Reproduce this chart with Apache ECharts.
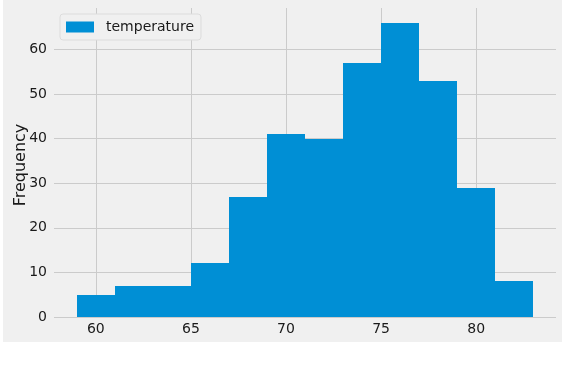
<!DOCTYPE html>
<html><head><meta charset="utf-8">
<script src="https://cdn.jsdelivr.net/npm/echarts@6/dist/echarts.min.js"></script>
<style>
html,body{margin:0;padding:0;background:#fff;}
#wrap{position:relative;width:586px;height:365px;background:#fff;}
#bg{position:absolute;left:3px;top:0;width:559px;height:342px;background:#f0f0f0;}
#c{position:absolute;left:0;top:0;width:586px;height:365px;}
</style></head>
<body><div id="wrap"><div id="bg"></div><div id="c"></div></div>
<script>
const binEdges = [59, 61, 63, 65, 67, 69, 71, 73, 75, 77, 79, 81, 83];
const counts = [5, 7, 7, 12, 27, 41, 40, 57, 66, 53, 29, 8];
const seriesName = 'temperature';

const data = counts.map((c, i) => [binEdges[i], binEdges[i + 1], c]);
const chart = echarts.init(document.getElementById('c'), null, {renderer: 'canvas'});
const font = 'DejaVu Sans';
const txt = '#1a1a1a';
chart.setOption({
  backgroundColor: 'transparent',
  animation: false,
  textStyle: {fontFamily: font},
  grid: {left: 54, top: 8, width: 502, height: 309, containLabel: false, outerBoundsMode: 'none'},
  legend: {
    left: 60, top: 14, data: [{name: seriesName, icon: 'rect'}],
    itemWidth: 28, itemHeight: 11, itemGap: 10,
    padding: [6, 7, 6, 6],
    backgroundColor: '#f0f0f0', borderColor: '#dcdcdc', borderWidth: 1, borderRadius: 3,
    textStyle: {fontFamily: font, fontSize: 14, color: txt, padding: [0, 0, 0, 7]}
  },
  xAxis: {
    type: 'value', min: 57.8, max: 84.2, splitNumber: 5, minInterval: 5, maxInterval: 5,
    axisLine: {show: false}, axisTick: {show: false},
    axisLabel: {fontFamily: font, fontSize: 14, color: txt, margin: 5,
      showMinLabel: false, showMaxLabel: false,
      formatter: v => (Math.abs(v % 5) < 1e-6 ? String(v) : '')},
    splitLine: {show: true, showMinLine: false, showMaxLine: false, lineStyle: {color: '#cbcbcb', width: 1}}
  },
  yAxis: {
    type: 'value', min: 0, max: 69.3, interval: 10,
    name: 'Frequency', nameLocation: 'middle', nameRotate: 90, nameGap: 25, nameMoveOverlap: false,
    nameTextStyle: {fontFamily: font, fontSize: 16, color: txt, padding: [0, 5, 0, 0]},
    axisLine: {show: false}, axisTick: {show: false},
    axisLabel: {fontFamily: font, fontSize: 14, color: txt, margin: 7, showMaxLabel: false,
      formatter: v => (Math.abs(v % 10) < 1e-6 ? String(v) : '')},
    splitLine: {show: true, showMaxLine: false, lineStyle: {color: '#cbcbcb', width: 1}}
  },
  series: [{
    name: seriesName, type: 'custom', itemStyle: {color: '#008fd5'},
    encode: {x: [0, 1], y: 2},
    data: data,
    renderItem: function (params, api) {
      const p0 = api.coord([api.value(0), api.value(2)]);
      const p1 = api.coord([api.value(1), 0]);
      const x0 = Math.round(p0[0]), x1 = Math.round(p1[0]);
      const y0 = Math.round(p0[1]), y1 = Math.round(p1[1]);
      return {type: 'rect', shape: {x: x0, y: y0, width: x1 - x0, height: y1 - y0},
        style: {fill: '#008fd5'}};
    }
  }]
});
</script></body></html>
